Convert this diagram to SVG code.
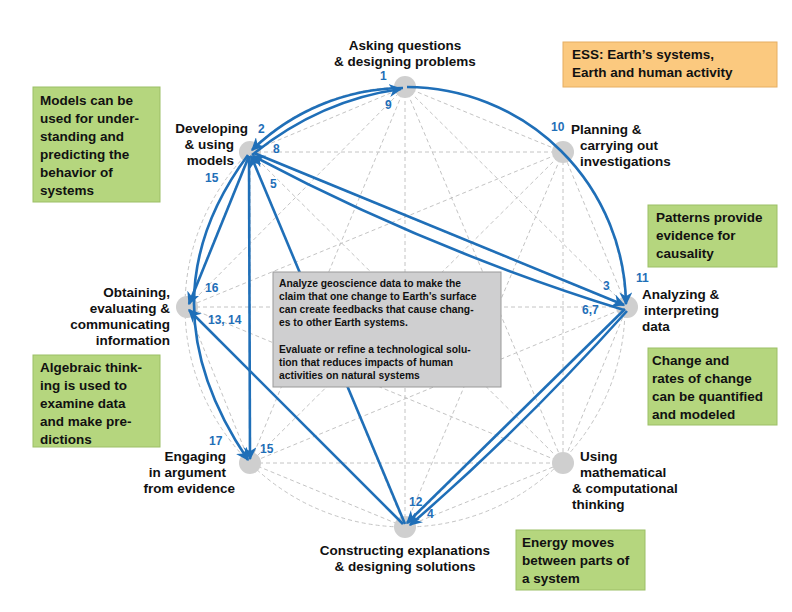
<svg xmlns="http://www.w3.org/2000/svg" width="792" height="612" viewBox="0 0 792 612">
<style>
.lbl{font-family:"Liberation Sans",Arial,sans-serif;font-weight:bold;font-size:13.5px;fill:#111}
.num{font-family:"Liberation Sans",Arial,sans-serif;font-weight:bold;font-size:12px;fill:#1f6fb8}
.box{font-family:"Liberation Sans",Arial,sans-serif;font-weight:bold;font-size:13.5px;fill:#111}
.g{fill:#b5d67e;stroke:#9cbf66;stroke-width:1}
.d{stroke:#c4c4c4;stroke-width:1;stroke-dasharray:4 3;fill:none}
.a{stroke:#1f6fb8;stroke-width:2.6;fill:none;marker-end:url(#ah)}
.n{fill:#cfcfcf}
</style>
<defs>
<marker id="ah" viewBox="0 0 10 10" refX="9" refY="5" markerWidth="5" markerHeight="5" orient="auto" markerUnits="strokeWidth"><path d="M0,0 L10,5 L0,10 L3,5 z" fill="#1f6fb8"/></marker>
</defs>
<rect width="792" height="612" fill="#fff"/>
<g id="grid">
<circle class="d" cx="405" cy="307" r="220"/>
<path class="d" d="M405,87 L563,152 L627,307 L563,463 L405,527 L250,463 L187,307 L250,152 Z M405,87 L627,307 L405,527 L187,307 Z M250,152 L563,152 L563,463 L250,463 Z M405,87 L563,463 M405,87 L250,463 M405,87 L405,527 M563,152 L405,527 M563,152 L187,307 M563,152 L250,463 M627,307 L250,152 M627,307 L250,463 M627,307 L187,307 M563,463 L250,152 M563,463 L187,307 M405,527 L250,152"/>
</g>
<g id="nodes">
<g id="n-asking"><circle class="n" cx="405" cy="87" r="11"/><text class="lbl" text-anchor="middle" x="405" y="50">Asking questions</text><text class="lbl" text-anchor="middle" x="405" y="66">&amp; designing problems</text></g>
<g id="n-planning"><circle class="n" cx="563" cy="152" r="11"/><text class="lbl" x="571" y="134">Planning &amp;</text><text class="lbl" x="580" y="150">carrying out</text><text class="lbl" x="580" y="166">investigations</text></g>
<g id="n-analyzing"><circle class="n" cx="627" cy="307" r="11"/><text class="lbl" x="642" y="299">Analyzing &amp;</text><text class="lbl" x="644" y="315">interpreting</text><text class="lbl" x="642" y="331">data</text></g>
<g id="n-math"><circle class="n" cx="563" cy="463" r="11"/><text class="lbl" x="580" y="461">Using</text><text class="lbl" x="580" y="477">mathematical</text><text class="lbl" x="572" y="493">&amp; computational</text><text class="lbl" x="572" y="509">thinking</text></g>
<g id="n-constructing"><circle class="n" cx="405" cy="527" r="11"/><text class="lbl" text-anchor="middle" x="405" y="555">Constructing explanations</text><text class="lbl" text-anchor="middle" x="405" y="571">&amp; designing solutions</text></g>
<g id="n-engaging"><circle class="n" cx="250" cy="463" r="11"/><text class="lbl" text-anchor="end" x="226" y="461">Engaging</text><text class="lbl" text-anchor="end" x="226" y="477">in argument</text><text class="lbl" text-anchor="end" x="235" y="493">from evidence</text></g>
<g id="n-obtaining"><circle class="n" cx="187" cy="307" r="11"/><text class="lbl" text-anchor="end" x="170" y="297">Obtaining,</text><text class="lbl" text-anchor="end" x="170" y="313">evaluating &amp;</text><text class="lbl" text-anchor="end" x="170" y="329">communicating</text><text class="lbl" text-anchor="end" x="170" y="345">information</text></g>
<g id="n-models"><circle class="n" cx="250" cy="152" r="11"/><text class="lbl" text-anchor="end" x="248" y="133">Developing</text><text class="lbl" text-anchor="end" x="234" y="149">&amp; using</text><text class="lbl" text-anchor="end" x="234" y="165">models</text></g>
</g>
<g id="connectors">
<path class="a" d="M403,88 A220,220 0 0 0 252,150"/>
<path class="a" d="M252,155 Q320,100 401,89"/>
<path class="a" d="M407,87 A220,220 0 0 1 626,304"/>
<path class="a" d="M254,153 L624,305"/>
<path class="a" d="M624,310 Q430,250 253,156"/>
<path class="a" d="M405,524 L251,156"/>
<path class="a" d="M625,309 L407,523"/>
<path class="a" d="M627,311 Q520,430 410,525"/>
<path class="a" d="M403,524 L189,310"/>
<path class="a" d="M249,156 L250,459"/>
<path class="a" d="M249,156 L189,304"/>
<path class="a" d="M248,155 Q140,300 248,460"/>
</g>
<g id="numbers">
<text class="num" x="380" y="80">1</text><text class="num" x="385" y="109">9</text>
<text class="num" x="258" y="133">2</text><text class="num" x="273" y="153">8</text>
<text class="num" x="205" y="182">15</text><text class="num" x="270" y="188">5</text>
<text class="num" x="551" y="131">10</text>
<text class="num" x="636" y="282">11</text><text class="num" x="603" y="290">3</text><text class="num" x="582" y="314">6,7</text>
<text class="num" x="205" y="292">16</text><text class="num" x="208" y="324">13, 14</text>
<text class="num" x="209" y="445">17</text><text class="num" x="260" y="453">15</text>
<text class="num" x="409" y="506">12</text><text class="num" x="427" y="518">4</text>
</g>
<g id="textbox">
<rect x="273" y="272" width="228" height="115" fill="#cfcfd0" stroke="#999" stroke-width="1"/>
<g font-family="Liberation Sans,Arial,sans-serif" font-size="10.3" fill="#111" font-weight="bold">
<text x="279" y="287">Analyze geoscience data to make the</text>
<text x="279" y="300">claim that one change to Earth's surface</text>
<text x="279" y="313">can create feedbacks that cause chang-</text>
<text x="279" y="326">es to other Earth systems.</text>
<text x="279" y="353">Evaluate or refine a technological solu-</text>
<text x="279" y="366">tion that reduces impacts of human</text>
<text x="279" y="379">activities on natural systems</text>
</g>
</g>
<g id="notes">
<rect x="563" y="42" width="214" height="45" fill="#fbc97f" stroke="#e6ae63"/>
<text class="box" x="572" y="59">ESS: Earth’s systems,</text><text class="box" x="572" y="77">Earth and human activity</text>
<rect class="g" x="33" y="87" width="127" height="115"/>
<text class="box" x="40" y="105">Models can be</text><text class="box" x="40" y="123">used for under-</text><text class="box" x="40" y="141">standing and</text><text class="box" x="40" y="159">predicting the</text><text class="box" x="40" y="177">behavior of</text><text class="box" x="40" y="195">systems</text>
<rect class="g" x="648" y="205" width="129" height="62"/>
<text class="box" x="656" y="222">Patterns provide</text><text class="box" x="656" y="240">evidence for</text><text class="box" x="656" y="258">causality</text>
<rect class="g" x="33" y="355" width="127" height="92"/>
<text class="box" x="40" y="372">Algebraic think-</text><text class="box" x="40" y="390">ing is used to</text><text class="box" x="40" y="408">examine data</text><text class="box" x="40" y="426">and make pre-</text><text class="box" x="40" y="444">dictions</text>
<rect class="g" x="648" y="348" width="129" height="77"/>
<text class="box" x="652" y="365">Change and</text><text class="box" x="652" y="383">rates of change</text><text class="box" x="652" y="401">can be quantified</text><text class="box" x="652" y="419">and modeled</text>
<rect class="g" x="516" y="530" width="129" height="60"/>
<text class="box" x="522" y="547">Energy moves</text><text class="box" x="522" y="565">between parts of</text><text class="box" x="522" y="583">a system</text>
</g>
</svg>
